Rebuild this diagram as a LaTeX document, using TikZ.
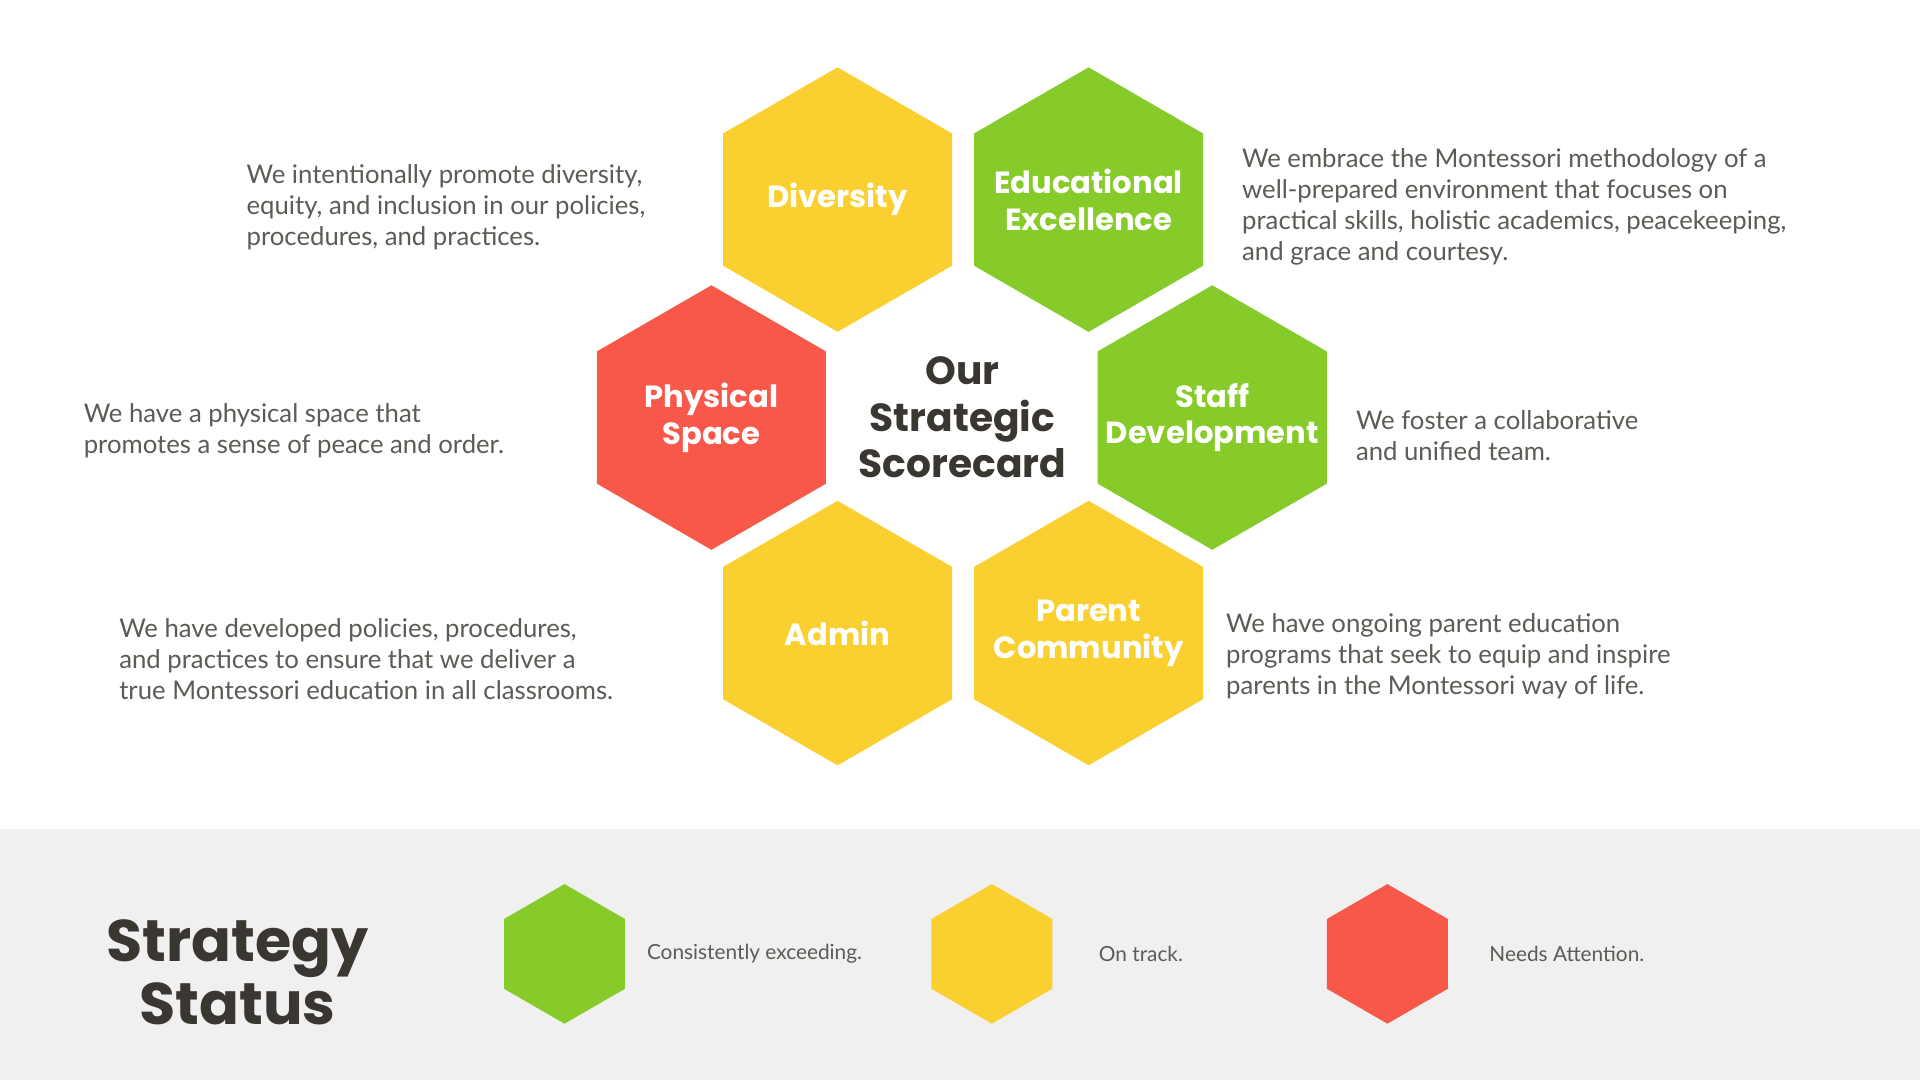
\documentclass[tikz,border=0pt]{standalone}
\usepackage{fontspec}
\setmainfont{Lato}
\newfontfamily\headfont{Poppins}
\definecolor{hy}{HTML}{F9D02F}
\definecolor{hg}{HTML}{86CB2A}
\definecolor{hr}{HTML}{F8584A}
\definecolor{bandgray}{HTML}{F0F0F0}
\definecolor{bodytxt}{HTML}{5E5A55}
\definecolor{darktxt}{HTML}{3A3631}
\newcommand\hexagonat[4]{\fill[#4] (#1,#2) ++(90:#3) -- ++(210:#3) -- ++(270:#3) -- ++(330:#3) -- ++(30:#3) -- ++(90:#3) -- cycle;}
\begin{document}
\begin{tikzpicture}[x=0.5pt,y=-0.5pt,
  hexlabel/.style={text=white,font=\headfont\bfseries\fontsize{12.5}{15}\selectfont,align=center},
  desc/.style={text=bodytxt,font=\fontsize{10.5}{12.6}\selectfont,align=left,anchor=north west,inner sep=0pt},
  legend/.style={text=bodytxt,font=\fontsize{8.5}{10}\selectfont,anchor=west,inner sep=0pt}]
\useasboundingbox (0,0) rectangle (1568,882);
\fill[white] (0,0) rectangle (1568,677);
\fill[bandgray] (0,677) rectangle (1568,882);
\hexagonat{684}{163}{108}{hy}
\hexagonat{889}{163}{108}{hg}
\hexagonat{581}{341}{108}{hr}
\hexagonat{990}{341}{108}{hg}
\hexagonat{684}{517}{108}{hy}
\hexagonat{889}{517}{108}{hy}
\node[hexlabel] (div) at (684,163) {Diversity};
\node[hexlabel] (edu) at (889,163) {Educational\\Excellence};
\node[hexlabel] (phy) at (581,341) {Physical\\Space};
\node[hexlabel] (stf) at (990,341) {Staff\\Development};
\node[hexlabel] (adm) at (684,517) {Admin};
\node[hexlabel] (par) at (889,517) {Parent\\Community};
\node[text=darktxt,font=\headfont\bfseries\fontsize{16}{19}\selectfont,align=center] (ctr) at (786,341) {Our\\Strategic\\Scorecard};
\node[desc] (d1) at (201,134) {We intentionally promote diversity,\\equity, and inclusion in our policies,\\procedures, and practices.};
\node[desc] (d2) at (1014,121) {We embrace the Montessori methodology of a\\well-prepared environment that focuses on\\practical skills, holistic academics, peacekeeping,\\and grace and courtesy.};
\node[desc] (d3) at (68,329) {We have a physical space that\\promotes a sense of peace and order.};
\node[desc] (d4) at (1107,335) {We foster a collaborative\\and unified team.};
\node[desc] (d5) at (97,505) {We have developed policies, procedures,\\and practices to ensure that we deliver a\\true Montessori education in all classrooms.};
\node[desc] (d6) at (1001,501) {We have ongoing parent education\\programs that seek to equip and inspire\\parents in the Montessori way of life.};
\node[text=darktxt,font=\headfont\bfseries\fontsize{24}{25.5}\selectfont,align=center] (ss) at (194,794) {Strategy\\Status};
\hexagonat{461}{779}{57}{hg}
\hexagonat{810}{779}{57}{hy}
\hexagonat{1133}{779}{57}{hr}
\node[legend] (l1) at (528,779) {Consistently exceeding.};
\node[legend] (l2) at (897,779) {On track.};
\node[legend] (l3) at (1216,779) {Needs Attention.};
\end{tikzpicture}
\end{document}
